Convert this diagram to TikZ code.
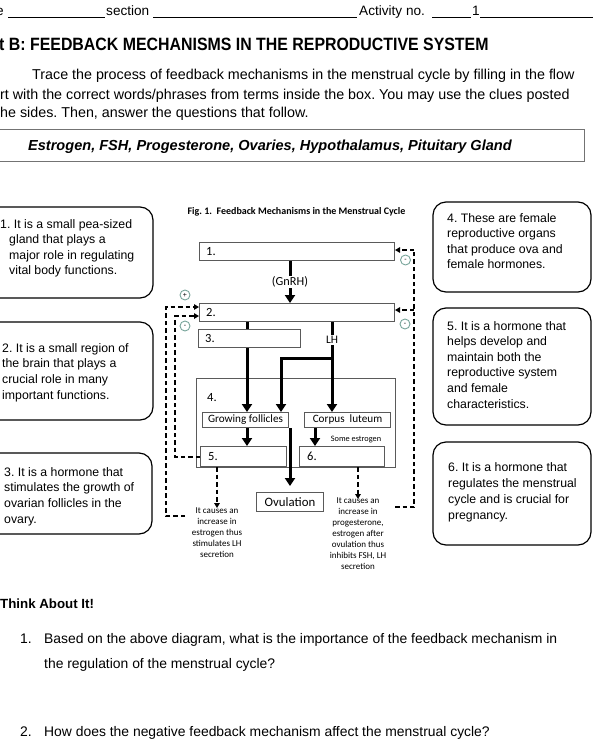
\documentclass[tikz,border=0pt]{standalone}
\usepackage{fontspec}
\setmainfont{Liberation Sans}
\newfontfamily\calfont{Carlito}
\usetikzlibrary{arrows.meta}
\definecolor{signc}{RGB}{120,165,155}
\definecolor{boxc}{RGB}{90,90,90}
\frenchspacing
\begin{document}
\begin{tikzpicture}[x=1pt,y=-1pt,
  cbox/.style={draw=black,line width=1.2pt,rounded corners=13pt},
  dbox/.style={draw=boxc,line width=1pt,fill=white,anchor=north west,inner sep=0pt},
  tk/.style={line width=3pt,draw=black},
  tka/.style={tk,-{Triangle[length=8pt,width=10pt]}},
  dfb/.style={line width=1.6pt,dash pattern=on 4.5pt off 3pt},
  dfba/.style={dfb,-{Triangle[length=5pt,width=5.5pt]}},
  sgn/.style={circle,draw=signc,line width=0.9pt,minimum size=10pt,inner sep=0pt,font=\fontsize{7}{7}\selectfont},
  cl/.style={anchor=base west,inner sep=0pt,font=\fontsize{12.3}{14}\selectfont},
  hd/.style={anchor=base west,inner sep=0pt,font=\fontsize{13.6}{16}\selectfont},
  para/.style={anchor=base west,inner sep=0pt,font=\fontsize{14.3}{17}\selectfont},
  num/.style={anchor=west,inner sep=0pt,font=\calfont\fontsize{12.5}{14}\selectfont},
  small/.style={anchor=base,inner sep=0pt,font=\calfont\fontsize{8.3}{10}\selectfont},
  expl/.style={anchor=base,inner sep=0pt,font=\calfont\fontsize{9}{10}\selectfont},
  q/.style={anchor=base west,inner sep=0pt,font=\fontsize{13.9}{16}\selectfont},
]
\useasboundingbox (0,0) rectangle (593,742);
\fill[white] (0,0) rectangle (593,742);
\clip (0,0) rectangle (593,742);

% header
\node[hd] (h0) at (-4,15) {e};
\node[hd] (h1) at (106,15) {section};
\node[hd] (h2) at (359,15) {Activity no.};
\node[hd] (h3) at (472,15) {1};
\draw[line width=0.8pt] (8,17) -- (105,17);
\draw[line width=0.8pt] (153,17) -- (357,17);
\draw[line width=0.8pt] (432,17) -- (471,17);
\draw[line width=0.8pt] (480,17) -- (593,17);

% title
\node[anchor=base west,inner sep=0pt,font=\bfseries\fontsize{15.9}{18}\selectfont] (ttl) at (-1,50) {\scalebox{1}[1.12]{t B: FEEDBACK MECHANISMS IN THE REPRODUCTIVE SYSTEM}};

% paragraph
\node[para] (p1) at (32,79) {Trace the process of feedback mechanisms in the menstrual cycle by filling in the flow};
\node[para] (p2) at (0,99) {rt with the correct words/phrases from terms inside the box. You may use the clues posted};
\node[para] (p3) at (0,117) {he sides. Then, answer the questions that follow.};

% keyword box
\draw[draw=black!55,line width=1pt] (-5,129) rectangle (584,161);
\node[anchor=base west,inner sep=0pt,font=\bfseries\itshape\fontsize{14.55}{17}\selectfont] (kw) at (28,150) {Estrogen, FSH, Progesterone, Ovaries, Hypothalamus, Pituitary Gland};

% clue boxes left
\draw[cbox] (-15,207) rectangle (153,298);
\draw[cbox] (-15,322) rectangle (153,420);
\draw[cbox] (-15,453) rectangle (152,534);
\node[cl] (c1a) at (0,228) {1. It is a small pea-sized};
\foreach \t [count=\i] in {gland that plays a, major role in regulating, vital body functions.}
  \node[cl] (c1b\i) at (9,228+15.5*\i) {\t};
\foreach \t [count=\i from 0] in {2. It is a small region of, the brain that plays a, crucial role in many, important functions.}
  \node[cl] (c2\i) at (2,352+15.8*\i) {\t};
\foreach \t [count=\i from 0] in {3. It is a hormone that, stimulates the growth of, ovarian follicles in the, ovary.}
  \node[cl] (c3\i) at (4,476+15.8*\i) {\t};

% clue boxes right
\draw[cbox] (433,202) rectangle (591,292);
\draw[cbox] (433,308) rectangle (591,425);
\draw[cbox] (433,442) rectangle (591,545);
\foreach \t [count=\i from 0] in {4. These are female, reproductive organs, that produce ova and, female hormones.}
  \node[cl] (c4\i) at (447,222+15.6*\i) {\t};
\foreach \t [count=\i from 0] in {5. It is a hormone that, helps develop and, maintain both the, reproductive system, and female, characteristics.}
  \node[cl] (c5\i) at (447,330+15.6*\i) {\t};
\foreach \t [count=\i from 0] in {6. It is a hormone that, regulates the menstrual, cycle and is crucial for, pregnancy.}
  \node[cl] (c6\i) at (448,471+16*\i) {\t};

% figure title
\node[anchor=base,inner sep=0pt,font=\calfont\bfseries\fontsize{10}{12}\selectfont] (fig) at (296.5,214) {Fig. 1.\ \ Feedback Mechanisms in the Menstrual Cycle};

% diagram boxes
\node[dbox,minimum width=195pt,minimum height=18pt] (b1) at (199,242) {};
\node[num] (n1) at ([xshift=7pt]b1.west) {1.};
\node[dbox,minimum width=195pt,minimum height=18pt] (b2) at (199,303) {};
\node[num] (n2) at ([xshift=7pt]b2.west) {2.};
\node[dbox,minimum width=102pt,minimum height=18pt] (b3) at (198,329) {};
\node[num] (n3) at ([xshift=7pt]b3.west) {3.};
\node[dbox,fill=none,minimum width=199pt,minimum height=89pt] (b4) at (196,378) {};
\node[num] (n4) at (207,398) {4.};
\node[dbox,minimum width=86pt,minimum height=15pt,font=\calfont\fontsize{11.2}{12}\selectfont] (gf) at (202,412) {Growing follicles};
\node[dbox,minimum width=86pt,minimum height=15pt,font=\calfont\fontsize{11.2}{12}\selectfont] (cl) at (304,412) {Corpus\ \ luteum};
\node[small] (se) at (356,441) {Some estrogen};
\node[dbox,minimum width=86pt,minimum height=20pt] (b5) at (200,446) {};
\node[num] (n5) at ([xshift=8pt]b5.west) {5.};
\node[dbox,minimum width=85pt,minimum height=20pt] (b6) at (299,446) {};
\node[num] (n6) at ([xshift=8pt]b6.west) {6.};
\node[dbox,minimum width=67pt,minimum height=19pt,font=\calfont\fontsize{12.8}{14}\selectfont] (ov) at (256,492) {Ovulation};

% explanation texts
\foreach \t [count=\i from 0] in {It causes an, increase in, estrogen thus, stimulates LH, secretion}
  \node[expl] (t5\i) at (217,513+11*\i) {\t};
\foreach \t [count=\i from 0] in {It causes an, increase in, {progesterone,}, estrogen after, ovulation thus, {inhibits FSH,\ LH}, secretion}
  \node[expl] (t6\i) at (358,503+11*\i) {\t};

% thick connectors
\draw[tka] (b1.south -| 290,0) -- node[fill=white,inner sep=1pt,font=\calfont\fontsize{12.3}{14}\selectfont] (gn) {(GnRH)} (b2.north -| 290,0);
\draw[tk] (b2.south -| 247,0) -- (b3.north -| 247,0);
\coordinate (lhj) at (332,358);
\draw[tk] (b2.south -| lhj) -- node[fill=white,inner sep=1.5pt,font=\calfont\fontsize{11.5}{13}\selectfont] (lh) {LH} (lhj);
\draw[tka] (lhj) -- (cl.north -| lhj);
\draw[tka] (lhj) -- (lhj -| 281,0) -- (gf.north -| 281,0);
\draw[tka] (b3.south -| 247,0) -- (gf.north -| 247,0);
\draw[tka] (gf.south -| 247,0) -- (b5.north -| 247,0);
\draw[tka] (cl.south -| 315,0) -- (b6.north -| 315,0);
\draw[tka,shorten >=6pt] (gf.south -| ov.north) -- (ov.north);

% dashed arrows to explanations
\draw[dfba,line width=1.4pt] (b5.south -| t50.north) -- ([yshift=-1pt]t50.north);
\draw[dfba,line width=1.4pt] (b6.south -| t60.north) -- ([yshift=-2pt]t60.north);

% feedback loops right
\coordinate (r0) at (395,507);
\coordinate (r1) at (414,507);
\coordinate (r2) at (414,250);
\coordinate (r3) at (414,310);
\draw[dfb] (r0) -- (r1) -- (r2);
\draw[dfba] (r2) -- (b1.east |- r2);
\draw[dfba] (r3) -- (b2.east |- r3);
\node[sgn] (m1) at (405.5,260) {-};
\node[sgn] (m2) at (405,324) {-};

% feedback loops left
\coordinate (l0) at (185,516);
\coordinate (l1) at (166,516);
\coordinate (l2) at (166,307);
\draw[dfba] (l0) -- (l1) -- (l2) -- (b2.west |- l2);
\coordinate (k1) at (175,457);
\coordinate (k2) at (175,316);
\draw[dfba] (b5.west |- k1) -- (k1) -- (k2) -- (b2.west |- k2);
\node[sgn] (p1s) at (185,295) {+};
\node[sgn] (m3) at (185,326) {-};

% think about it
\node[anchor=base west,inner sep=0pt,font=\bfseries\fontsize{13.3}{16}\selectfont] (ta) at (0,608) {Think About It!};
\node[q] (q1n) at (20,643) {1.};
\node[q] (q1a) at (44,643) {Based on the above diagram, what is the importance of the feedback mechanism in};
\node[q] (q1b) at (44,668) {the regulation of the menstrual cycle?};
\node[q] (q2n) at (20,736) {2.};
\node[q] (q2a) at (44,736) {How does the negative feedback mechanism affect the menstrual cycle?};
\end{tikzpicture}
\end{document}
